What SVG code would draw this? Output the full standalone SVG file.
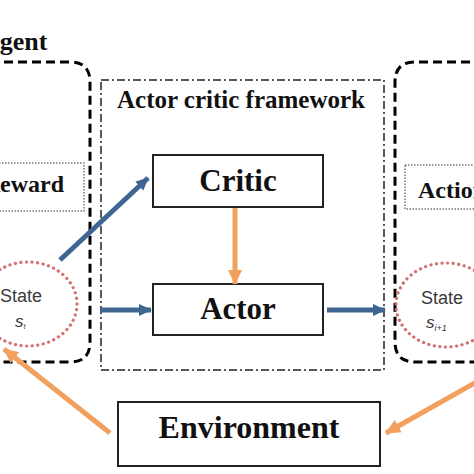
<svg xmlns="http://www.w3.org/2000/svg" width="474" height="474" viewBox="0 0 474 474">
<style>
.agent{fill:none;stroke:#000;stroke-width:3;stroke-dasharray:9 5}
.frame{fill:none;stroke:#222;stroke-width:1.5;stroke-dasharray:8 3 2 3}
.box{fill:#fff;stroke:#222;stroke-width:2}
.dbox{fill:#fff;stroke:#777;stroke-width:1.5;stroke-dasharray:1.5 1.5}
.state{fill:none;stroke:#d47070;stroke-width:3.2;stroke-dasharray:0.1 5.5;stroke-linecap:round}
.t{font-family:"Liberation Serif","Times New Roman",serif;font-weight:bold;fill:#111}
.s{font-family:"Liberation Sans",Arial,sans-serif;fill:#3a3a3a}
.blue{stroke:#3f6592;stroke-width:5;fill:none}
.orange{stroke:#f2a05e;stroke-width:5;fill:none}
</style>
<defs>
<marker id="hb" markerUnits="userSpaceOnUse" markerWidth="14" markerHeight="14" refX="12" refY="7" orient="auto"><path d="M0,1 L13,7 L0,13 Z" fill="#3f6592"/></marker>
<marker id="ho" markerUnits="userSpaceOnUse" markerWidth="16" markerHeight="16" refX="14" refY="8" orient="auto"><path d="M0,1 L15,8 L0,15 Z" fill="#f2a05e"/></marker>
</defs>
<rect width="474" height="474" fill="#fff"/>
<g id="agent-left">
<path class="agent" d="M -10 62 H 70 Q 90 62 90 82 V 342 Q 90 362 70 362 H -10"/>
<text class="t" x="-19" y="50" font-size="26">Agent</text>
</g>
<g id="agent-right">
<path class="agent" d="M 484 62 H 415 Q 395 62 395 82 V 342 Q 395 362 415 362 H 484"/>
</g>
<g id="framework">
<rect class="frame" x="101" y="80" width="283" height="290"/>
<text class="t" x="241" y="108" font-size="25" text-anchor="middle">Actor critic framework</text>
</g>
<g id="reward">
<rect class="dbox" x="-10" y="163" width="94" height="48"/>
<text class="t" x="64" y="192" font-size="24" text-anchor="end">Reward</text>
</g>
<g id="action">
<rect class="dbox" x="405" y="165" width="80" height="44"/>
<text class="t" x="418" y="198" font-size="24">Action</text>
</g>
<g id="state-left">
<ellipse class="state" cx="28" cy="304" rx="49" ry="42"/>
<text class="s" x="0" y="302" font-size="18">State</text>
<text class="s" x="15" y="327" font-size="17" font-style="italic">s<tspan font-size="7" dy="2">t</tspan></text>
</g>
<g id="state-right">
<ellipse class="state" cx="446" cy="305" rx="50" ry="42"/>
<text class="s" x="421" y="304" font-size="18">State</text>
<text class="s" x="426" y="328" font-size="17" font-style="italic">s<tspan font-size="9" dy="3">i+1</tspan></text>
</g>
<g id="critic">
<rect class="box" x="153" y="155" width="170" height="52"/>
<text class="t" x="238" y="191" font-size="31" text-anchor="middle">Critic</text>
</g>
<g id="actor">
<rect class="box" x="153" y="284" width="170" height="51"/>
<text class="t" x="238" y="319" font-size="31" text-anchor="middle">Actor</text>
</g>
<g id="environment">
<rect class="box" x="118" y="402" width="262" height="64"/>
<text class="t" x="249" y="438" font-size="32" text-anchor="middle">Environment</text>
</g>
<g id="connectors">
<line class="blue" x1="60" y1="260" x2="148" y2="178" marker-end="url(#hb)"/>
<line class="blue" x1="100" y1="310" x2="151" y2="310" marker-end="url(#hb)"/>
<line class="blue" x1="327" y1="310" x2="385" y2="310" marker-end="url(#hb)"/>
<line class="orange" x1="235" y1="208" x2="235" y2="284" marker-end="url(#ho)"/>
<line class="orange" x1="110" y1="433" x2="4" y2="349" marker-end="url(#ho)"/>
<line class="orange" x1="480" y1="380" x2="386" y2="433" marker-end="url(#ho)"/>
</g>
</svg>
